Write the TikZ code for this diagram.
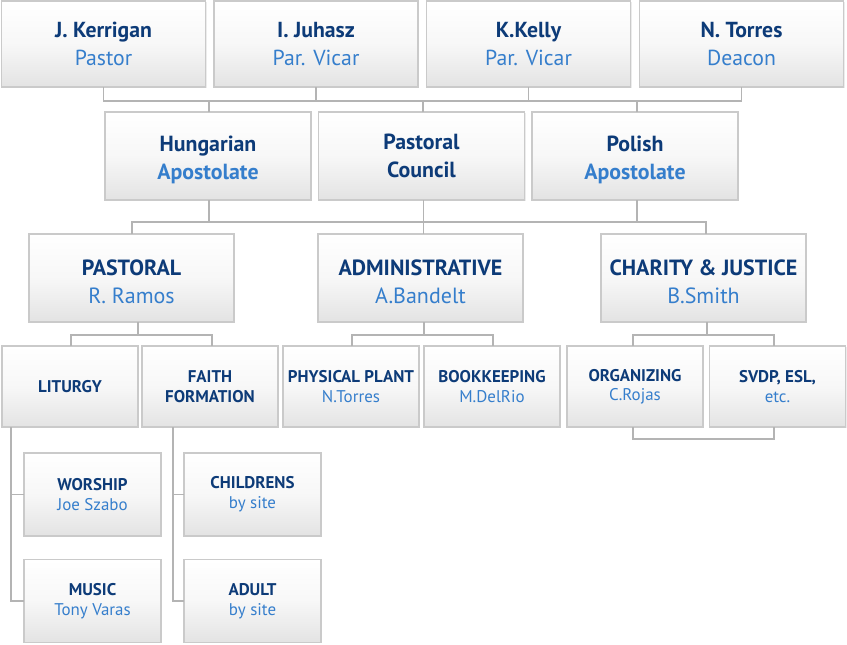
\documentclass[tikz,border=0pt]{standalone}
\usepackage{fontspec}
\setmainfont{PT Sans}
\usetikzlibrary{shadows}
\definecolor{ttl}{HTML}{0D3B78}
\definecolor{sub}{HTML}{357ECC}
\definecolor{ln}{HTML}{B4B4B4}
\definecolor{bd}{HTML}{CACACA}
\definecolor{bot}{HTML}{E3E3E3}
\newcommand\Ttl[1]{\textcolor{ttl}{\bfseries #1}}
\newcommand\Sbt[1]{\textcolor{sub}{#1}}
\newcommand\SbtB[1]{\textcolor{sub}{\bfseries #1}}
\newcommand\Up{\rule{0pt}{17pt}}
\tikzset{
 box/.style={draw=bd, line width=1.2pt, top color=white, bottom color=bot,
   middle color=white!97!black, align=center, inner sep=2pt, outer sep=0pt,
   drop shadow={opacity=0.15, shadow xshift=0.8pt, shadow yshift=-0.8pt}},
 bA/.style={box, minimum width=153pt, minimum height=64.5pt, font=\fontsize{16.3}{21}\selectfont},
 bB/.style={box, minimum width=154.5pt, minimum height=66pt, font=\fontsize{16.4}{21}\selectfont},
 bC/.style={box, minimum width=153.75pt, minimum height=66pt, font=\fontsize{16.5}{21}\selectfont},
 bD/.style={box, minimum width=102pt, minimum height=60.75pt, font=\fontsize{12.7}{14.5}\selectfont},
 bE/.style={box, minimum width=102.75pt, minimum height=62pt, font=\fontsize{12.7}{15}\selectfont},
 conn/.style={draw=ln, line width=1.1pt},
}
\begin{document}
\begin{tikzpicture}[x=0.75pt, y=-0.75pt]
\useasboundingbox (0,0) rectangle (847,644);
% row 1
\node[bA] (kerrigan) at (103.5,44) {\Ttl{J. Kerrigan}\\\Sbt{Pastor}};
\node[bA] (juhasz) at (316,44) {\Ttl{I. Juhasz}\\\Sbt{Par. Vicar}};
\node[bA] (kelly) at (528.5,44) {\Ttl{K.Kelly}\\\Sbt{Par. Vicar}};
\node[bA] (torres) at (741.5,44) {\Ttl{N. Torres}\\\Sbt{Deacon}};
% row 2
\node[bB] (hung) at (208,156) {\Up\Ttl{Hungarian}\\\SbtB{Apostolate}};
\node[bB] (council) at (421.5,156) {\Ttl{Pastoral}\\\Ttl{Council}};
\node[bB] (polish) at (635,156) {\Up\Ttl{Polish}\\\SbtB{Apostolate}};
% row 3
\node[bC] (pastoral) at (131.5,278) {\Up\Ttl{PASTORAL}\\\Sbt{R. Ramos}};
\node[bC] (admin) at (420.5,278) {\Up\Ttl{ADMINISTRATIVE}\\\Sbt{A.Bandelt}};
\node[bC] (charity) at (703.5,278) {\Up\Ttl{CHARITY \& JUSTICE}\\\Sbt{B.Smith}};
% row 4
\node[bD] (liturgy) at (70,386.5) {\Ttl{LITURGY}};
\node[bD] (faith) at (210,386.5) {\Ttl{FAITH}\\\Ttl{FORMATION}};
\node[bD] (plant) at (351,386.5) {\Ttl{PHYSICAL PLANT}\\\Sbt{N.Torres}};
\node[bD] (books) at (492,386.5) {\Ttl{BOOKKEEPING}\\\Sbt{M.DelRio}};
\node[bD] (org) at (635,386.5) {\Ttl{ORGANIZING}\\\Sbt{C.Rojas}};
\node[bD] (svdp) at (777.5,386.5) {\Ttl{SVDP, ESL,}\\\Sbt{etc.}};
% row 5
\node[bE] (worship) at (92.5,494.5) {\Ttl{WORSHIP}\\\Sbt{Joe Szabo}};
\node[bE] (music) at (92.5,601) {\Ttl{MUSIC}\\\Sbt{Tony Varas}};
\node[bE] (children) at (252.5,494.5) {\Ttl{CHILDRENS}\\\Sbt{by site}};
\node[bE] (adult) at (252.5,601) {\Ttl{ADULT}\\\Sbt{by site}};
% connectors row1-row2
\path[conn] (kerrigan.south) -- ++(0,14) -| (torres.south);
\path[conn] (juhasz.south) -- ++(0,14);
\path[conn] (kelly.south) -- ++(0,14);
\path[conn] ([xshift=0.75pt]hung.north) -- ++(0,-11);
\path[conn] ([xshift=1pt]council.north) -- ++(0,-11);
\path[conn] ([xshift=1.5pt]polish.north) -- ++(0,-11);
% row2-row3
\path[conn] ([xshift=0.75pt]hung.south) -- ++(0,22);
\path[conn] ([xshift=1.5pt]polish.south) -- ++(0,22);
\path[conn] ([xshift=1.5pt]council.south) -- ([xshift=2.25pt]admin.north);
\path[conn] ([xshift=0.4pt]pastoral.north) -- ++(0,-12) -| ([xshift=1.9pt]charity.north);
% row3-row4
\path[conn] ([xshift=4.9pt]pastoral.south) -- ++(0,13);
\path[conn] ([xshift=0.75pt]liturgy.north) -- ++(0,-11) -| ([xshift=1.5pt]faith.north);
\path[conn] ([xshift=2.6pt]admin.south) -- ++(0,13);
\path[conn] ([xshift=0.75pt]plant.north) -- ++(0,-11) -| ([xshift=0.75pt]books.north);
\path[conn] ([xshift=2.6pt]charity.south) -- ++(0,13);
\path[conn] ([xshift=-1.5pt]org.north) -- ++(0,-11) -| ([xshift=-2.6pt]svdp.north);
\path[conn] ([xshift=-1.5pt]org.south) -- ++(0,12) -| ([xshift=-2.6pt]svdp.south);
% row4-row5
\path[conn] ([xshift=6.75pt]liturgy.south west) |- (worship.west);
\path[conn] ([xshift=6.75pt]liturgy.south west) |- (music.west);
\path[conn] ([xshift=23.25pt]faith.south west) |- (children.west);
\path[conn] ([xshift=23.25pt]faith.south west) |- (adult.west);
\end{tikzpicture}
\end{document}
